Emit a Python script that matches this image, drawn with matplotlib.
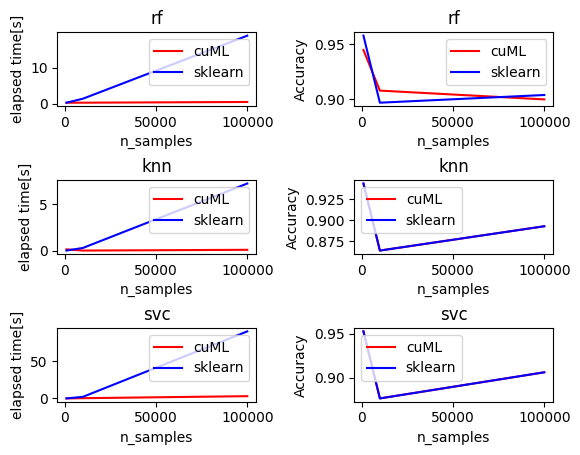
import numpy as np
import matplotlib
matplotlib.use("Agg")
import matplotlib.pyplot as plt

n_samples = [1000, 10000, 100000]
models = ["rf", "knn", "svc"]

# elapsed time [s]
time_cuml = {"rf": [0.3, 0.3, 0.5], "knn": [0.15, 0.02, 0.1], "svc": [0.1, 0.4, 3.1]}
time_sklearn = {"rf": [0.3, 1.4, 18.8], "knn": [0.02, 0.3, 7.2], "svc": [0.1, 2.2, 89.8]}

# accuracy
acc_cuml = {"rf": [0.945, 0.908, 0.900], "knn": [0.944, 0.864, 0.893], "svc": [0.953, 0.876, 0.906]}
acc_sklearn = {"rf": [0.958, 0.897, 0.904], "knn": [0.944, 0.864, 0.893], "svc": [0.953, 0.876, 0.906]}

acc_legend_loc = {"rf": "upper right", "knn": "upper left", "svc": "upper left"}

fig, axes = plt.subplots(3, 2, figsize=(5.8, 4.55), dpi=100)
for i, m in enumerate(models):
    ax = axes[i][0]
    ax.plot(n_samples, time_cuml[m], color="red", label="cuML")
    ax.plot(n_samples, time_sklearn[m], color="blue", label="sklearn")
    ax.set_title(m)
    ax.set_xlabel("n_samples")
    ax.set_ylabel("elapsed time[s]")
    ax.legend(loc="upper right")

    ax = axes[i][1]
    ax.plot(n_samples, acc_cuml[m], color="red", label="cuML")
    ax.plot(n_samples, acc_sklearn[m], color="blue", label="sklearn")
    ax.set_title(m)
    ax.set_xlabel("n_samples")
    ax.set_ylabel("Accuracy")
    ax.legend(loc=acc_legend_loc[m])

plt.subplots_adjust(left=0.099, right=0.954, top=0.929, bottom=0.117,
                    wspace=0.493, hspace=1.005)
plt.savefig("out.png")
